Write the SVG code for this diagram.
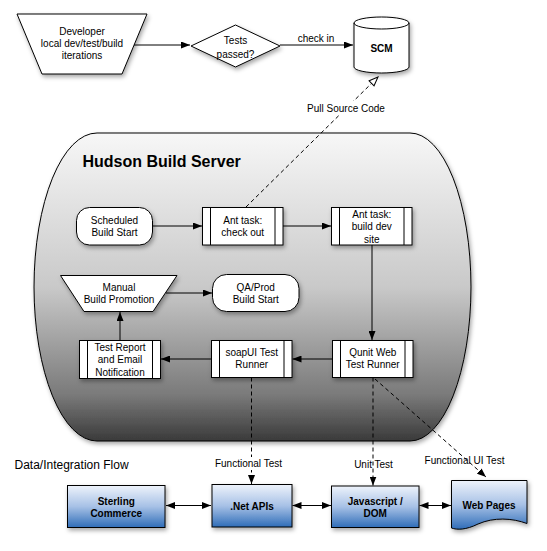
<svg xmlns="http://www.w3.org/2000/svg" width="547" height="551" viewBox="0 0 547 551">
<defs>
<linearGradient id="gBig" x1="0" y1="0" x2="0" y2="1">
<stop offset="0" stop-color="#f7f7f7"/>
<stop offset="0.5" stop-color="#c9c9c9"/>
<stop offset="0.85" stop-color="#7a7a7a"/>
<stop offset="1" stop-color="#3a3a3a"/>
</linearGradient>
<linearGradient id="gBlue" x1="0" y1="0" x2="0" y2="1">
<stop offset="0" stop-color="#eef3fb"/>
<stop offset="0.5" stop-color="#a7c1e6"/>
<stop offset="1" stop-color="#2f6db8"/>
</linearGradient>
<filter id="sh" x="-20%" y="-20%" width="140%" height="140%">
<feDropShadow dx="1.5" dy="2.5" stdDeviation="2" flood-color="#000" flood-opacity="0.35"/>
</filter>
<marker id="ah" viewBox="0 0 9 7" refX="9" refY="3.5" markerWidth="9" markerHeight="7" orient="auto-start-reverse" markerUnits="userSpaceOnUse">
<path d="M0,0 L9,3.5 L0,7 Z" fill="#000"/>
</marker>
<marker id="ao" viewBox="-1 -1 11 9" refX="9" refY="3.5" markerWidth="11" markerHeight="9" orient="auto" markerUnits="userSpaceOnUse">
<path d="M0,0 L9,3.5 L0,7 Z" fill="#fff" stroke="#000" stroke-width="1"/>
</marker>
</defs>
<style>
.s{stroke:#000;stroke-width:1;fill:#fff}
.t{font-family:"Liberation Sans",Arial,Helvetica,sans-serif;font-size:10px;fill:#000;text-anchor:middle}
.b{font-weight:bold}
.c{fill:none;stroke:#000;stroke-width:1}
.d{stroke-dasharray:4 3}
</style>
<rect width="547" height="551" fill="#fff"/>

<g id="hudson">
<path d="M97,133 L410,133 A61,154 0 0 1 410,441 L97,441 A63,154 0 0 1 97,133 Z" fill="url(#gBig)" stroke="#000" stroke-width="1" filter="url(#sh)"/>
<text x="82.5" y="167" style="font-family:'Liberation Sans',Arial,Helvetica,sans-serif;font-size:16px;font-weight:bold">Hudson Build Server</text>
</g>

<g id="developer">
<path class="s" d="M17,14 L147,14 L122,74 L42,74 Z" filter="url(#sh)"/>
<text class="t" x="82" y="34.5">Developer</text>
<text class="t" x="82" y="46.5">local dev/test/build</text>
<text class="t" x="82" y="58.5">iterations</text>
</g>

<g id="tests">
<path class="s" d="M191,46 L235.5,25 L280,46 L235.5,67 Z" filter="url(#sh)"/>
<text class="t" x="235.5" y="43.5">Tests</text>
<text class="t" x="235.5" y="58">passed?</text>
</g>

<g id="scm">
<path class="s" d="M354,23 A27.5,6 0 0 1 409,23 L409,67 A27.5,6 0 0 1 354,67 Z" filter="url(#sh)"/>
<path class="c" d="M354,23 A27.5,6 0 0 0 409,23"/>
<text class="t b" x="381.5" y="51.5">SCM</text>
</g>

<g id="scheduled">
<rect class="s" x="76.5" y="207.5" width="76" height="37.5" rx="13" filter="url(#sh)"/>
<text class="t" x="114.5" y="224">Scheduled</text>
<text class="t" x="114.5" y="236">Build Start</text>
</g>

<g id="checkout">
<rect class="s" x="202.5" y="207.5" width="80.5" height="37.5" filter="url(#sh)"/>
<path class="c" d="M210.5,207.5 V245 M275,207.5 V245"/>
<text class="t" x="242.75" y="224">Ant task:</text>
<text class="t" x="242.75" y="236">check out</text>
</g>

<g id="builddev">
<rect class="s" x="331.5" y="207.5" width="80.5" height="37.5" filter="url(#sh)"/>
<path class="c" d="M339.5,207.5 V245 M404,207.5 V245"/>
<text class="t" x="371.75" y="218">Ant task:</text>
<text class="t" x="371.75" y="230">build dev</text>
<text class="t" x="371.75" y="242.5">site</text>
</g>

<g id="manual">
<path class="s" d="M60.5,275.5 L177,275.5 L153,311.5 L84,311.5 Z" filter="url(#sh)"/>
<text class="t" x="119" y="290.5">Manual</text>
<text class="t" x="119" y="302.5">Build Promotion</text>
</g>

<g id="qaprod">
<rect class="s" x="212.5" y="274.5" width="86.5" height="37" rx="14" filter="url(#sh)"/>
<text class="t" x="255.75" y="290.5">QA/Prod</text>
<text class="t" x="255.75" y="302.5">Build Start</text>
</g>

<g id="testreport">
<rect class="s" x="79.5" y="340.5" width="81" height="38" filter="url(#sh)"/>
<path class="c" d="M87.5,340.5 V378.5 M152.5,340.5 V378.5"/>
<text class="t" x="120" y="350.5">Test Report</text>
<text class="t" x="120" y="363">and Email</text>
<text class="t" x="120" y="375.5">Notification</text>
</g>

<g id="soapui">
<rect class="s" x="211.5" y="340.5" width="80.5" height="37" filter="url(#sh)"/>
<path class="c" d="M219.5,340.5 V377.5 M284,340.5 V377.5"/>
<text class="t" x="251.75" y="356">soapUI Test</text>
<text class="t" x="251.75" y="368">Runner</text>
</g>

<g id="qunit">
<rect class="s" x="332.5" y="340.5" width="80.5" height="37" filter="url(#sh)"/>
<path class="c" d="M340.5,340.5 V377.5 M405,340.5 V377.5"/>
<text class="t" x="372.75" y="356">Qunit Web</text>
<text class="t" x="372.75" y="368">Test Runner</text>
</g>

<g id="flowlabel">
<text x="14.5" y="469" style="font-family:'Liberation Sans',Arial,Helvetica,sans-serif;font-size:12px">Data/Integration Flow</text>
</g>

<g id="sterling">
<rect x="67.5" y="485.5" width="97.5" height="42" fill="url(#gBlue)" stroke="#000" stroke-width="1" filter="url(#sh)"/>
<text class="t b" x="116.25" y="504.5">Sterling</text>
<text class="t b" x="116.25" y="516.5">Commerce</text>
</g>

<g id="netapis">
<rect x="212" y="484.5" width="80" height="42.5" fill="url(#gBlue)" stroke="#000" stroke-width="1" filter="url(#sh)"/>
<text class="t b" x="252" y="509.5">.Net APIs</text>
</g>

<g id="javascript">
<rect x="331.5" y="486" width="87.5" height="41.5" fill="url(#gBlue)" stroke="#000" stroke-width="1" filter="url(#sh)"/>
<text class="t b" x="375.25" y="505">Javascript /</text>
<text class="t b" x="375.25" y="517">DOM</text>
</g>

<g id="webpages">
<path d="M451.5,480.5 L527,480.5 L527,523.5 C512,518 494,517 478,524 C466,530 457,530 451.5,528 Z" fill="url(#gBlue)" stroke="#000" stroke-width="1" filter="url(#sh)"/>
<text class="t b" x="489" y="508.5">Web Pages</text>
</g>

<g id="connectors">
<path class="c" d="M134,45 H190" marker-end="url(#ah)"/>
<path class="c" d="M280,45 H353" marker-end="url(#ah)"/>
<text class="t" x="316" y="42">check in</text>
<path class="c d" d="M246,207 L378,77" marker-end="url(#ao)"/>
<rect x="305" y="101" width="82" height="14" fill="#fff"/>
<text class="t" x="346" y="112">Pull Source Code</text>
<path class="c" d="M152.5,226 H202" marker-end="url(#ah)"/>
<path class="c" d="M283,226 H331" marker-end="url(#ah)"/>
<path class="c" d="M372,245 V340" marker-end="url(#ah)"/>
<path class="c" d="M332.5,359 H292.5" marker-end="url(#ah)"/>
<path class="c" d="M211.5,359 H161" marker-end="url(#ah)"/>
<path class="c" d="M120,340.5 V312" marker-end="url(#ah)"/>
<path class="c" d="M166,293 H212" marker-end="url(#ah)"/>
<path class="c d" d="M251.5,377.5 V484" marker-end="url(#ah)"/>
<rect x="213" y="457" width="72" height="13" fill="#fff"/>
<text class="t" x="248.5" y="467">Functional Test</text>
<path class="c d" d="M373,377.5 V485.5" marker-end="url(#ah)"/>
<text class="t" x="373.5" y="468">Unit Test</text>
<path class="c d" d="M375,379 L486,477" marker-end="url(#ah)"/>
<text class="t" x="464.5" y="464">Functional UI Test</text>
<path class="c" d="M166,505.5 H211" marker-start="url(#ah)" marker-end="url(#ah)"/>
<path class="c" d="M292.5,505.5 H331" marker-start="url(#ah)" marker-end="url(#ah)"/>
<path class="c" d="M419.5,505.5 H451" marker-start="url(#ah)" marker-end="url(#ah)"/>
</g>
</svg>
